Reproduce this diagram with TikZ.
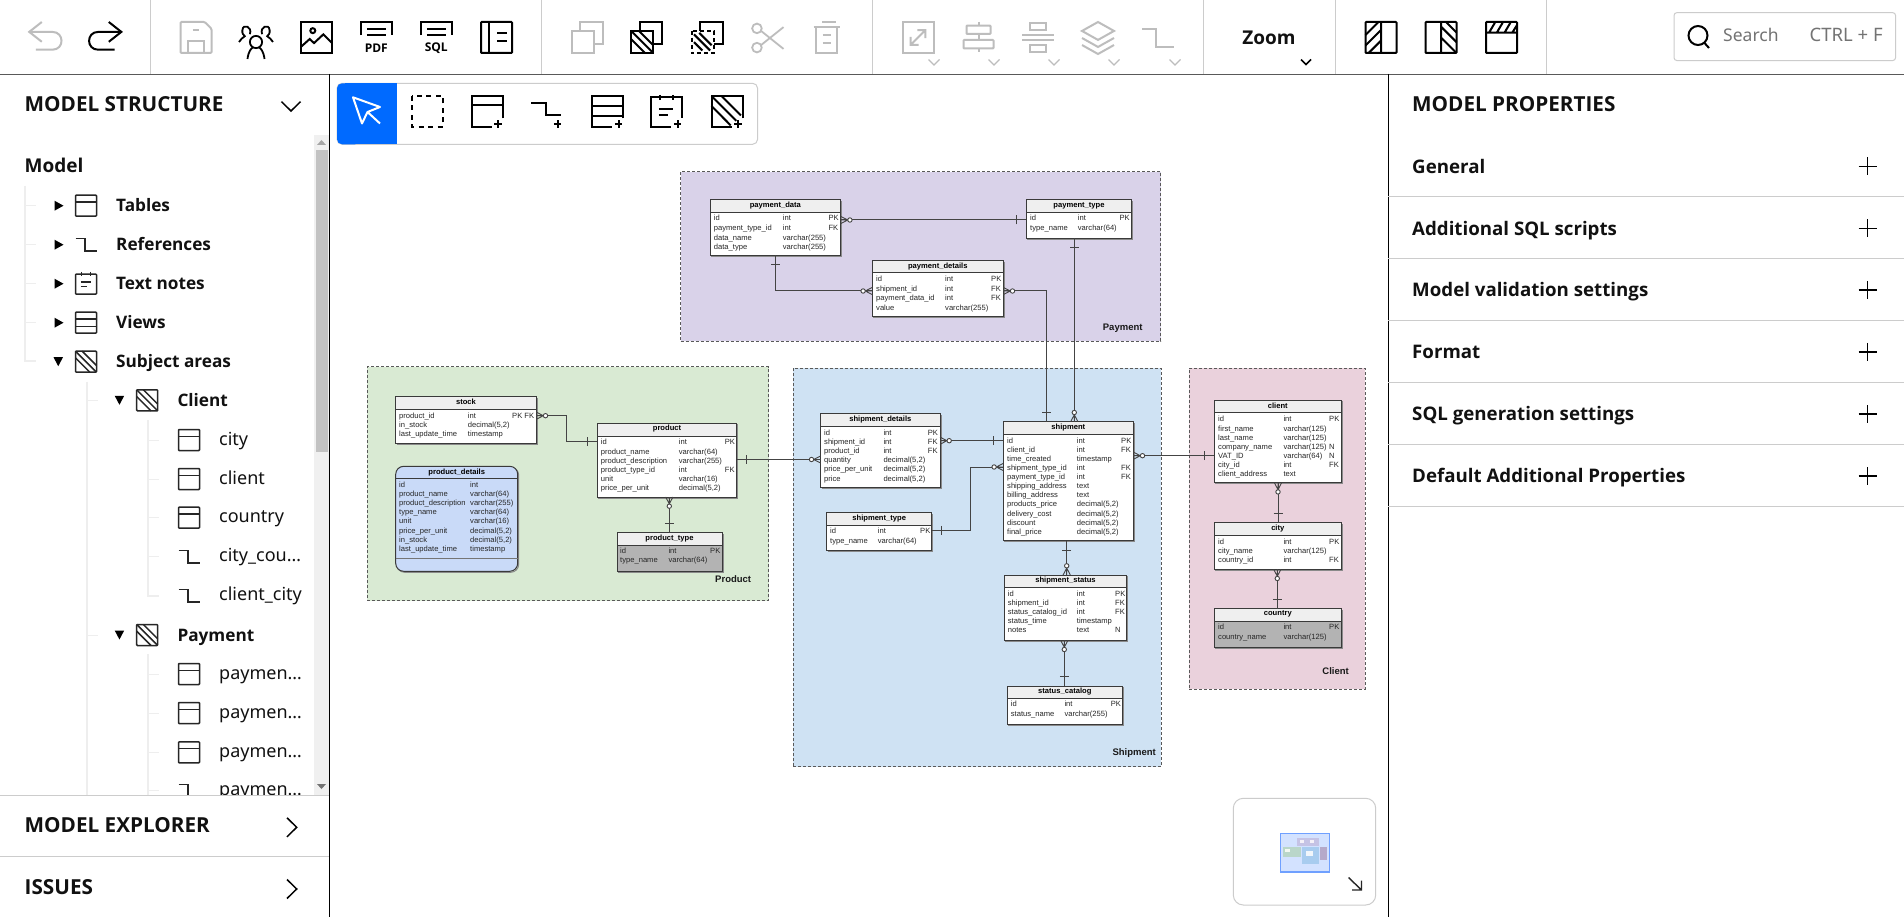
\documentclass[tikz,border=0pt]{standalone}
\usepackage{fontspec}
\setmainfont{Noto Sans}
\newfontfamily\dgfont{Liberation Sans}
\newfontfamily\uibold{Open Sans}
\catcode`\_=12
\definecolor{uitext}{HTML}{111111}
\definecolor{icgray}{HTML}{BDBDBD}
\definecolor{sep}{HTML}{CCCCCC}
\definecolor{treeline}{HTML}{EEEEEE}
\definecolor{dgline}{HTML}{444444}
\definecolor{tblborder}{HTML}{3A3A3A}
\definecolor{tblshadow}{HTML}{8A8A8A}
\definecolor{tblhead}{HTML}{EFEFEF}
\definecolor{graybody}{HTML}{B3B3B3}
\definecolor{bluebody}{HTML}{C9DAF8}
\definecolor{apay}{HTML}{D9D2E9}
\definecolor{aprod}{HTML}{D9EAD3}
\definecolor{aship}{HTML}{CFE2F3}
\definecolor{aclient}{HTML}{EAD1DC}
\definecolor{blue}{HTML}{006AFF}
\definecolor{mmblue}{HTML}{6FA0FF}
\definecolor{mmfill}{HTML}{D3E2FF}
\definecolor{mmpay}{HTML}{C5C3E5}
\definecolor{mmprod}{HTML}{B9D6C9}
\definecolor{mmship}{HTML}{A8CCEF}
\definecolor{mmclient}{HTML}{B5A9C9}
\newcommand\fs[1]{\fontsize{#1}{#1}\selectfont}
\tikzset{
  uihead/.style={anchor=mid west,inner sep=0pt,yshift=-3.4pt,text=uitext,font=\uibold\bfseries\fs{17.2}},
  uicaps/.style={uihead,yshift=-0.3pt,font=\uibold\bfseries\fs{20.7}},
  uiprop/.style={uihead,yshift=-0.8pt,font=\uibold\bfseries\fs{18.7}},
  uiitem/.style={anchor=mid west,inner sep=0pt,yshift=-2.6pt,text=uitext,font=\fs{18}},
  rowtxt/.style={anchor=mid west,inner sep=0pt,text=black!85,font=\dgfont\fs{7.6}},
  titletxt/.style={inner sep=0pt,text=black,font=\dgfont\fs{7.6}\bfseries},
  arealabel/.style={anchor=mid east,inner sep=0pt,text=black!90,font=\dgfont\fs{9.5}\bfseries},
  areabox/.style={draw=black!65,line width=0.8pt,dash pattern=on 3pt off 2pt,inner sep=0pt,outer sep=0pt,anchor=north west},
  conn/.style={draw=dgline,line width=1pt},
  crowmark/.pic={
    \draw[dgline,line width=0.9pt] (0,3.6)--(7,0) (0,-3.6)--(7,0) (0,0)--(7,0);
    \draw[dgline,line width=0.9pt,fill=white] (9.2,0) circle (2.2pt);
  },
  barmark/.pic={\draw[dgline,line width=0.9pt] (9.5,-4.5)--(9.5,4.5);},
  sepline/.style={draw=sep,line width=1pt},
}
\newcounter{rw}
\newcommand\colA{0}\newcommand\colB{0}\newcommand\colC{0}
\newcommand\tbl[8]{%
  \draw[tblshadow,line width=1pt] (#2+1,#5+1)--(#4+1,#5+1)--(#4+1,#3+1);
  \node[draw=tblborder,line width=1pt,fill=#8,inner sep=0pt,outer sep=0pt,anchor=north west,minimum width=#4pt-#2pt,minimum height=#5pt-#3pt] (#1) at (#2,#3) {};
  \node[draw=tblborder,line width=1pt,fill=tblhead,inner sep=0pt,outer sep=0pt,anchor=north west,minimum width=#4pt-#2pt,minimum height=#6pt-#3pt] (#1_head) at (#2,#3) {};
  \node[titletxt,yshift=0.8pt] (#1_title) at (#1_head.center) {#7};
}
\newcommand\cols[3]{\renewcommand\colA{#1}\renewcommand\colB{#2}\renewcommand\colC{#3}}
\newcommand\rw[4]{\stepcounter{rw}%
  \node[rowtxt] (r\therw a) at (\colA,#1) {#2};
  \node[rowtxt] (r\therw b) at (\colB,#1) {#3};
  \node[rowtxt] (r\therw c) at (\colC,#1) {#4};}
\newcommand\ic[6]{\begin{scope}[shift={(#2,#3)},x=#4pt,y=-#4pt,color=#5,line width=#6pt,line cap=butt,line join=miter]\csname ic#1\endcsname\end{scope}}
\newcommand\icPlusMark{\draw[line width=1.7pt] (.86,.78)--(.86,1.02) (.74,.9)--(.98,.9);}
\newcommand\icTable{\draw[rounded corners=0.8pt] (0,0) rectangle (1,1); \draw (0,.33)--(1,.33);}
\newcommand\icRef{\draw (0,.21)--(.45,.21)--(.45,.79)--(1,.79);}
\newcommand\icView{\draw[rounded corners=0.8pt] (0,0) rectangle (1,1); \draw (0,.33)--(1,.33) (0,.67)--(1,.67);}
\newcommand\icNote{\draw[rounded corners=0.8pt] (0,.04) rectangle (1,1); \draw (.28,-.06)--(.28,.12) (.72,-.06)--(.72,.12) (.25,.42)--(.72,.42) (.25,.64)--(.55,.64);}
\newcommand\icHatch{(.32,0)--(1,.68) (0,0)--(1,1) (0,.32)--(.68,1)}
\newcommand\icArea{\draw[rounded corners=0.8pt] (0,0) rectangle (1,1); \draw \icHatch;}
\newcommand\icUndo{\draw (.4,0)--(.02,.3)--(.4,.6); \draw (.02,.3)--(.72,.3) .. controls (1.09,.3) and (1.09,.84) .. (.72,.84)--(.22,.84);}
\newcommand\icRedo{\draw (.6,0)--(.98,.3)--(.6,.6); \draw (.98,.3)--(.28,.3) .. controls (-.09,.3) and (-.09,.84) .. (.28,.84)--(.78,.84);}
\newcommand\icSave{\draw[rounded corners=1pt] (0,0)--(.78,0)--(1,.22)--(1,1)--(0,1)--cycle; \draw (.4,.27)--(.6,.27); \draw (.24,1)--(.24,.62)--(.76,.62)--(.76,1);}
\newcommand\icUsers{\draw (.5,.5) circle (.18); \draw (.25,1) .. controls (.28,.76) and (.36,.7) .. (.4,.66) (.75,1) .. controls (.72,.76) and (.64,.7) .. (.6,.66);
  \draw (.32,.27) .. controls (.4,.05) and (.12,-.06) .. (.1,.15) .. controls (.08,.25) and (.14,.3) .. (.17,.33) .. controls (.1,.38) and (.05,.42) .. (0,.5);
  \draw (.68,.27) .. controls (.6,.05) and (.88,-.06) .. (.9,.15) .. controls (.92,.25) and (.86,.3) .. (.83,.33) .. controls (.9,.38) and (.95,.42) .. (1,.5);}
\newcommand\icImage{\draw (0,0) rectangle (1,1); \draw (.38,.28) circle (.08); \draw (0,.8)--(.28,.55)--(.42,.68)--(.72,.4)--(1,.68);}
\newcommand\icPdf{\draw (0,.42)--(0,0)--(1,0)--(1,.42); \draw (.2,.22)--(.8,.22) (.2,.42)--(.8,.42);
  \node[inner sep=0pt,font=\uibold\bfseries\fs{12},text=black] (pdflabel) at (.5,.84) {PDF};}
\newcommand\icSql{\draw (0,.42)--(0,0)--(1,0)--(1,.42); \draw (.2,.22)--(.8,.22) (.2,.42)--(.8,.42);
  \node[inner sep=0pt,font=\uibold\bfseries\fs{12},text=black] (sqllabel) at (.5,.84) {SQL};}
\newcommand\icSide{\draw[rounded corners=0.8pt] (0,0) rectangle (1,1); \draw (.27,0)--(.27,1) (.52,.36)--(.84,.36) (.52,.6)--(.84,.6);}
\newcommand\icCopy{\draw (.28,0) rectangle (1,.72); \draw[fill=white] (0,.28) rectangle (.72,1);}
\newcommand\icCopyArea{\draw (.28,0) rectangle (1,.72); \draw[fill=white] (0,.28) rectangle (.72,1); \draw (.25,.28)--(.72,.75) (0,.28)--(.72,1) (0,.55)--(.45,1);}
\newcommand\icCopyDash{\draw (.28,.28)--(.28,0)--(1,0)--(1,.72)--(.72,.72); \draw[dash pattern=on 4pt off 3pt] (0,.28) rectangle (.72,1); \draw (.25,.35)--(.65,.75) (.08,.4)--(.6,.92) (.08,.65)--(.35,.92);}
\newcommand\icScissors{\draw (.17,.2) circle (.15) (.17,.8) circle (.15); \draw (.3,.28)--(1,.84) (.3,.72)--(1,.16);}
\newcommand\icTrash{\draw (.29,0)--(.71,0) (.0,.15)--(.84,.15); \draw (.08,.15)--(.08,1)--(.76,1)--(.76,.15); \draw (.3,.42)--(.56,.42) (.3,.68)--(.56,.68);}
\newcommand\icExpand{\draw (0,0) rectangle (1,1); \draw (.26,.74)--(.74,.26) (.48,.26)--(.74,.26)--(.74,.52) (.26,.48)--(.26,.74)--(.52,.74);}
\newcommand\icAlignA{\draw[rounded corners=0.8pt] (.1,.12) rectangle (.9,.4); \draw[rounded corners=0.8pt] (0,.6) rectangle (1,.88); \draw (.5,0)--(.5,.12) (.5,.4)--(.5,.6) (.5,.88)--(.5,1);}
\newcommand\icAlignB{\draw (.25,.02) rectangle (.75,.24); \draw (.25,.72) rectangle (.75,.96); \draw (0,.4)--(1,.4) (0,.57)--(1,.57);}
\newcommand\icLayers{\draw (.5,0)--(1,.28)--(.5,.56)--(0,.28)--cycle; \draw (0,.5)--(.5,.78)--(1,.5) (0,.72)--(.5,1)--(1,.72);}
\newcommand\icSplitL{\draw[rounded corners=0.8pt] (0,0) rectangle (1,1); \draw (.5,0)--(.5,1) (0,.42)--(.42,0) (0,.76)--(.5,.26) (.1,1)--(.5,.6);}
\newcommand\icSplitR{\draw[rounded corners=0.8pt] (0,0) rectangle (1,1); \draw (.5,0)--(.5,1) (.5,.15)--(1,.65) (.66,0)--(1,.34) (.5,.5)--(1,1);}
\newcommand\icSplitT{\draw[rounded corners=0.8pt] (0,0) rectangle (1,1); \draw (0,.34)--(1,.34) (.1,.34)--(.3,0) (.35,.34)--(.55,0) (.6,.34)--(.8,0) (.85,.34)--(1,.1);}
\newcommand\icDashRect{\draw[dash pattern=on 5pt off 4.5pt] (0,0) rectangle (1,1);}
\newcommand\icTablePlus{\draw (1,.72)--(1,0)--(0,0)--(0,1)--(.66,1); \draw (0,.3)--(1,.3); \icPlusMark}
\newcommand\icRefPlus{\draw (0,.21)--(.48,.21)--(.48,.62)--(.98,.62); \icPlusMark}
\newcommand\icViewPlus{\draw (1,.72)--(1,0)--(0,0)--(0,1)--(.66,1); \draw (0,.33)--(1,.33) (0,.64)--(1,.64); \icPlusMark}
\newcommand\icNotePlus{\draw (1,.7)--(1,.04)--(0,.04)--(0,1)--(.66,1); \draw (.28,-.04)--(.28,.12) (.72,-.04)--(.72,.12) (.25,.42)--(.72,.42) (.25,.62)--(.55,.62); \icPlusMark}
\newcommand\icAreaPlus{\draw (1,.72)--(1,0)--(0,0)--(0,1)--(.66,1); \draw (.32,0)--(.95,.63) (0,0)--(.8,.8) (0,.32)--(.62,.95); \icPlusMark}
\newcommand\triR[2]{\fill[black] (#1,#2-5)--(#1+9,#2)--(#1,#2+5)--cycle;}
\newcommand\triD[2]{\fill[black] (#1,#2-4.5)--(#1+9.5,#2-4.5)--(#1+4.75,#2+4.5)--cycle;}
\begin{document}
\begin{tikzpicture}[x=1pt,y=-1pt]
\useasboundingbox (0,0) rectangle (1904,917);
\fill[white] (0,0) rectangle (1904,917);
\foreach \sx in {150.6,541,872.6,1203,1335.7,1546.6} \draw[sepline] (\sx,0)--(\sx,74);
\draw[black!65,line width=1pt] (0,74.3)--(1904,74.3);
\draw[black,line width=1pt] (329,74)--(329,917);
\draw[black,line width=1pt] (1388,74)--(1388,917);
\ic{Undo}{28.6}{22}{33}{icgray}{2}
\ic{Redo}{89}{22}{33}{black}{2}
\ic{Save}{180.5}{22}{31}{icgray}{2}
\ic{Users}{239}{25}{34}{black}{1.8}
\ic{Image}{301}{22}{31}{black}{2}
\ic{Pdf}{360.5}{22}{31.5}{black}{2}
\ic{Sql}{420.5}{22}{31.5}{black}{2}
\ic{Side}{481}{22}{31}{black}{2}
\ic{Copy}{571.5}{22}{31}{icgray}{2}
\ic{CopyArea}{631}{22}{31}{black}{2}
\ic{CopyDash}{691.5}{22}{31}{black}{2}
\ic{Scissors}{751.5}{22}{32}{icgray}{1.8}
\ic{Trash}{813.5}{22}{31}{icgray}{2}
\ic{Expand}{902.5}{22}{31}{icgray}{2}
\ic{AlignA}{963.5}{22}{30}{icgray}{2}
\ic{AlignB}{1022}{22}{31.5}{icgray}{2}
\ic{Layers}{1082}{22}{32}{icgray}{2}
\ic{Ref}{1142}{22}{32}{icgray}{2}
\foreach \cx in {934,994,1054,1114,1175}
  \draw[icgray,line width=1.3pt] (\cx-5.5,59.5)--(\cx,65)--(\cx+5.5,59.5);
\node[inner sep=0pt,font=\uibold\bfseries\fs{19},text=uitext] (zoomlabel) at (1269,37.5) {Zoom};
\draw[black,line width=1.6pt] (1301,59.5)--(1306,64.5)--(1311,59.5);
\ic{SplitL}{1365.5}{22}{31}{black}{2}
\ic{SplitR}{1425.5}{22}{31}{black}{2}
\ic{SplitT}{1486}{22}{31}{black}{2}
\draw[sep,line width=1pt,rounded corners=3pt] (1674,12.6) rectangle (1895.6,60.6);
\draw[black,line width=2pt] (1698,35.5) circle (9.5pt);
\draw[black,line width=2pt] (1704.5,43)--(1709,48);
\node[uiitem,font=\fs{17.5},text=black!55] (searchlabel) at (1723,36) {Search};
\node[uiitem,font=\fs{18.5},text=black!55] (searchkeys) at (1809.5,36.5) {CTRL + F};
\node[uicaps] (modelstructure) at (24.5,105) {MODEL STRUCTURE};
\draw[black,line width=1.5pt] (281.5,101.7)--(291,111)--(300.5,101.7);
\fill[black!6] (314.3,135) rectangle (329,795);
\fill[black!24] (315.5,150) rectangle (328,451.7);
\fill[black!35] (317,145)--(326,145)--(321.5,140)--cycle;
\fill[black!55] (317,784)--(326,784)--(321.5,789)--cycle;
\begin{scope}
\clip (0,120) rectangle (314,795);
\draw[treeline,line width=2pt] (25,186)--(25,360.7)--(35.7,360.7);
\foreach \ty in {205.7,244.7,283.7,322.7} \draw[treeline,line width=1pt] (25,\ty)--(35.7,\ty);
\draw[treeline,line width=2pt] (86.7,381.7)--(86.7,795);
\foreach \ty in {400.3,635} \draw[treeline,line width=1pt] (86.7,\ty)--(98,\ty);
\draw[treeline,line width=2pt] (147.7,420)--(147.7,595.7)--(159,595.7);
\foreach \ty in {440,479,517.7,556.7} \draw[treeline,line width=1pt] (147.7,\ty)--(159,\ty);
\draw[treeline,line width=2pt] (147.7,654)--(147.7,795);
\foreach \ty in {674,713,752.3,790.7} \draw[treeline,line width=1pt] (147.7,\ty)--(159,\ty);
\node[uihead,font=\uibold\bfseries\fs{19}] (tree_model) at (24.5,166.7) {Model};
\triR{54.5}{205.7}\ic{Table}{75.5}{195.2}{21}{black!85}{1.5}\node[uihead] (tree_tables) at (116,205.7) {Tables};
\triR{54.5}{244.7}\ic{Ref}{75.5}{234.2}{21}{black!85}{1.5}\node[uihead] (tree_refs) at (116,244.7) {References};
\triR{54.5}{283.7}\ic{Note}{75.5}{273.2}{21}{black!85}{1.5}\node[uihead] (tree_notes) at (116,283.7) {Text notes};
\triR{54.5}{322.7}\ic{View}{75.5}{312.2}{21}{black!85}{1.5}\node[uihead] (tree_views) at (116,322.7) {Views};
\triD{53.5}{361.7}\ic{Area}{75.5}{351.2}{21}{black!85}{1.5}\node[uihead] (tree_areas) at (116,361.7) {Subject areas};
\triD{114.7}{400.3}\ic{Area}{136.7}{389.8}{21}{black!85}{1.5}\node[uihead] (tree_client) at (177.3,400.3) {Client};
\ic{Table}{178.5}{429.5}{21}{black!85}{1.5}\node[uiitem] (tree_city) at (219,440) {city};
\ic{Table}{178.5}{468.5}{21}{black!85}{1.5}\node[uiitem] (tree_clientt) at (219,479) {client};
\ic{Table}{178.5}{507.2}{21}{black!85}{1.5}\node[uiitem] (tree_country) at (219,517.7) {country};
\ic{Ref}{178.5}{546.2}{21}{black!85}{1.5}\node[uiitem] (tree_citycou) at (219,556.7) {city_cou…};
\ic{Ref}{178.5}{585.2}{21}{black!85}{1.5}\node[uiitem] (tree_clientcity) at (219,595.7) {client_city};
\triD{114.7}{635}\ic{Area}{136.7}{624.5}{21}{black!85}{1.5}\node[uihead] (tree_payment) at (177.3,635) {Payment};
\ic{Table}{178.5}{663.5}{21}{black!85}{1.5}\node[uiitem] (tree_pay1) at (219,674) {paymen…};
\ic{Table}{178.5}{702.5}{21}{black!85}{1.5}\node[uiitem] (tree_pay2) at (219,713) {paymen…};
\ic{Table}{178.5}{741.8}{21}{black!85}{1.5}\node[uiitem] (tree_pay3) at (219,752.3) {paymen…};
\ic{Ref}{178.5}{780.2}{21}{black!85}{1.5}\node[uiitem] (tree_pay4) at (219,790.7) {paymen…};
\end{scope}
\draw[sepline] (0,795.3)--(329,795.3);
\draw[sepline] (0,856.3)--(329,856.3);
\node[uicaps] (modelexplorer) at (24.5,826) {MODEL EXPLORER};
\node[uicaps] (issues) at (24.5,887.7) {ISSUES};
\draw[black,line width=1.5pt] (287,817.8)--(296.7,827.3)--(287,836.8);
\draw[black,line width=1.5pt] (287,879.5)--(296.7,889)--(287,898.5);
\node[uicaps] (modelprops) at (1412,105) {MODEL PROPERTIES};
\foreach \pname/\pid/\py in {General/pa/166.4,Additional SQL scripts/pb/228.3,Model validation settings/pc/290,Format/pd/352,SQL generation settings/pe/414,Default Additional Properties/pf/476}{
  \node[uiprop] (\pid) at (1412,\py) {\pname};
  \draw[black,line width=1.4pt] (1858.5,\py)--(1876.5,\py) (1867.5,\py-9)--(1867.5,\py+9);
  \draw[sepline] (1388,\py+30.6)--(1904,\py+30.6);
}
\draw[sep,fill=white,line width=1pt,rounded corners=5pt] (337,83.3) rectangle (757.6,144.3);
\fill[blue,rounded corners=5pt] (337,83.3) rectangle (360,144.3);
\fill[blue] (345,83.3) rectangle (397,144.3);
\draw[white,line width=2pt,line join=round] (353,97.3)--(380,107)--(367.5,112)--(362,123.5)--cycle (367.5,112)--(380,123.5);
\ic{DashRect}{411.5}{96}{31}{black}{2}
\ic{TablePlus}{471.5}{96}{31}{black}{2}
\ic{RefPlus}{531}{96}{31}{black}{2}
\ic{ViewPlus}{592}{96}{31}{black}{2}
\ic{NotePlus}{651}{96}{31}{black}{2}
\ic{AreaPlus}{711.5}{96}{31}{black}{2}
\node[areabox,fill=apay,minimum width=480pt,minimum height=169.3pt] (area_payment) at (680.7,171.7) {};
\node[areabox,fill=aprod,minimum width=401.4pt,minimum height=234pt] (area_product) at (367.3,366.7) {};
\node[areabox,fill=aship,minimum width=368pt,minimum height=398.7pt] (area_shipment) at (793.3,368) {};
\node[areabox,fill=aclient,minimum width=175.7pt,minimum height=321.3pt] (area_client) at (1189.3,368) {};
\node[arealabel] (lab_payment) at (1142.7,327.7) {Payment};
\node[arealabel] (lab_product) at (751.3,579.7) {Product};
\node[arealabel] (lab_shipment) at (1156,752.7) {Shipment};
\node[arealabel] (lab_client) at (1349,671.7) {Client};
\tbl{payment_data}{710}{200}{840.7}{255.3}{212.7}{payment_data}{white}
\cols{713.7}{782.7}{828.3}
\rw{218.3}{id}{int}{PK}
\rw{228.3}{payment_type_id}{int}{FK}
\rw{237.7}{data_name}{varchar(255)}{}
\rw{246.7}{data_type}{varchar(255)}{}
\tbl{payment_type}{1026.3}{199.7}{1131.7}{238.3}{212.7}{payment_type}{white}
\cols{1030}{1077.7}{1119.3}
\rw{218.3}{id}{int}{PK}
\rw{228.3}{type_name}{varchar(64)}{}
\tbl{payment_details}{872.3}{260.7}{1003.3}{316.3}{273}{payment_details}{white}
\cols{876}{945}{991}
\rw{279.3}{id}{int}{PK}
\rw{288.7}{shipment_id}{int}{FK}
\rw{297.7}{payment_data_id}{int}{FK}
\rw{307.7}{value}{varchar(255)}{}
\tbl{stock}{395.7}{396.7}{536.3}{443}{409}{stock}{white}
\cols{399}{467.7}{512}
\rw{415.7}{product_id}{int}{PK FK}
\rw{424.7}{in_stock}{decimal(5,2)}{}
\rw{433.7}{last_update_time}{timestamp}{}
\draw[tblshadow,line width=1pt,rounded corners=8pt] (396.7,467.3) rectangle (518.7,572.3);
\node[draw=tblborder,line width=1pt,fill=bluebody,rounded corners=8pt,inner sep=0pt,outer sep=0pt,anchor=north west,minimum width=122pt,minimum height=105pt] (product_details) at (395.7,466.3) {};
\node[titletxt] (product_details_title) at (456.7,472.2) {product_details};
\draw[tblborder,line width=1pt] (395.7,478.7)--(517.7,478.7);
\draw[tblborder!70,line width=1pt] (395.7,558.7)--(517.7,558.7);
\cols{399}{470}{510}
\rw{485.3}{id}{int}{}
\rw{494.3}{product_name}{varchar(64)}{}
\rw{503.3}{product_description}{varchar(255)}{}
\rw{512.3}{type_name}{varchar(64)}{}
\rw{521.3}{unit}{varchar(16)}{}
\rw{530.7}{price_per_unit}{decimal(5,2)}{}
\rw{539.7}{in_stock}{decimal(5,2)}{}
\rw{548.7}{last_update_time}{timestamp}{}
\tbl{product}{597.3}{423.3}{736.7}{497}{436}{product}{white}
\cols{600.7}{678.7}{724.7}
\rw{441.7}{id}{int}{PK}
\rw{451.7}{product_name}{varchar(64)}{}
\rw{460.7}{product_description}{varchar(255)}{}
\rw{469.7}{product_type_id}{int}{FK}
\rw{478.7}{unit}{varchar(16)}{}
\rw{487.7}{price_per_unit}{decimal(5,2)}{}
\tbl{product_type}{617}{532.7}{722}{571.3}{545.3}{product_type}{graybody}
\cols{620}{668.3}{710}
\rw{551.3}{id}{int}{PK}
\rw{560.3}{type_name}{varchar(64)}{}
\tbl{shipment_details}{820.7}{413.7}{940}{487.7}{426}{shipment_details}{white}
\cols{824}{883.3}{927.7}
\rw{432.7}{id}{int}{PK}
\rw{441.7}{shipment_id}{int}{FK}
\rw{450.7}{product_id}{int}{FK}
\rw{459.7}{quantity}{decimal(5,2)}{}
\rw{468.7}{price_per_unit}{decimal(5,2)}{}
\rw{478.7}{price}{decimal(5,2)}{}
\tbl{shipment}{1003.3}{421.7}{1133.3}{540.7}{434}{shipment}{white}
\cols{1007}{1076.7}{1121}
\rw{440.7}{id}{int}{PK}
\rw{449.7}{client_id}{int}{FK}
\rw{458.7}{time_created}{timestamp}{}
\rw{467.7}{shipment_type_id}{int}{FK}
\rw{476.7}{payment_type_id}{int}{FK}
\rw{485.7}{shipping_address}{text}{}
\rw{494.7}{billing_address}{text}{}
\rw{503.7}{products_price}{decimal(5,2)}{}
\rw{513.7}{delivery_cost}{decimal(5,2)}{}
\rw{522.7}{discount}{decimal(5,2)}{}
\rw{531.7}{final_price}{decimal(5,2)}{}
\tbl{shipment_type}{826.7}{512.7}{931.7}{550.7}{525}{shipment_type}{white}
\cols{830}{877.7}{920}
\rw{531.3}{id}{int}{PK}
\rw{540.7}{type_name}{varchar(64)}{}
\tbl{shipment_status}{1004.3}{575}{1126.7}{640.3}{587.3}{shipment_status}{white}
\cols{1007.7}{1076.7}{1115}
\rw{594.3}{id}{int}{PK}
\rw{603.3}{shipment_id}{int}{FK}
\rw{612.3}{status_catalog_id}{int}{FK}
\rw{621.3}{status_time}{timestamp}{}
\rw{630.3}{notes}{text}{N}
\tbl{status_catalog}{1007.3}{686}{1122.3}{724.3}{698.3}{status_catalog}{white}
\cols{1010.7}{1064.3}{1110.7}
\rw{704.3}{id}{int}{PK}
\rw{714.3}{status_name}{varchar(255)}{}
\tbl{client}{1214.3}{400.3}{1341.3}{482.7}{412.7}{client}{white}
\cols{1218}{1283.3}{1329}
\rw{419.3}{id}{int}{PK}
\rw{428.7}{first_name}{varchar(125)}{}
\rw{437.7}{last_name}{varchar(125)}{}
\rw{446.7}{company_name}{varchar(125)}{N}
\rw{455.7}{VAT_ID}{varchar(64)}{N}
\rw{464.7}{city_id}{int}{FK}
\rw{473.7}{client_address}{text}{}
\tbl{city}{1214.3}{522.7}{1341.3}{569.3}{535.3}{city}{white}
\rw{541.7}{id}{int}{PK}
\rw{550.7}{city_name}{varchar(125)}{}
\rw{559.7}{country_id}{int}{FK}
\tbl{country}{1214.3}{608.7}{1341.3}{647.3}{621.3}{country}{graybody}
\rw{627.3}{id}{int}{PK}
\rw{636.7}{country_name}{varchar(125)}{}
\draw[conn] (payment_data.east |- 0,220) -- (payment_type.west |- 0,220);
\path (payment_data.east |- 0,220) pic {crowmark};
\path (payment_type.west |- 0,220) pic[rotate=180] {barmark};
\draw[conn] (775.3,0 |- payment_data.south) |- (payment_details.west |- 0,291);
\path (775.3,0 |- payment_data.south) pic[rotate=270] {barmark};
\path (payment_details.west |- 0,291) pic[rotate=180] {crowmark};
\draw[conn] (payment_details.east |- 0,291) -| (1046.7,0 |- shipment.north);
\path (payment_details.east |- 0,291) pic {crowmark};
\path (1046.7,0 |- shipment.north) pic[rotate=90] {barmark};
\draw[conn] (1074.3,0 |- payment_type.south) -- (1074.3,0 |- shipment.north);
\path (1074.3,0 |- payment_type.south) pic[rotate=270] {barmark};
\path (1074.3,0 |- shipment.north) pic[rotate=90] {crowmark};
\draw[conn] (stock.east |- 0,415.7) -| (566,441.7) -- (product.west |- 0,441.7);
\path (stock.east |- 0,415.7) pic {crowmark};
\path (product.west |- 0,441.7) pic[rotate=180] {barmark};
\draw[conn] (product.east |- 0,459.5) -- (shipment_details.west |- 0,459.5);
\path (product.east |- 0,459.5) pic {barmark};
\path (shipment_details.west |- 0,459.5) pic[rotate=180] {crowmark};
\draw[conn] (669.3,0 |- product.south) -- (669.3,0 |- product_type.north);
\path (669.3,0 |- product.south) pic[rotate=270] {crowmark};
\path (669.3,0 |- product_type.north) pic[rotate=90] {barmark};
\draw[conn] (shipment_details.east |- 0,440.7) -- (shipment.west |- 0,440.7);
\path (shipment_details.east |- 0,440.7) pic {crowmark};
\path (shipment.west |- 0,440.7) pic[rotate=180] {barmark};
\draw[conn] (shipment_type.east |- 0,530.3) -| (970.3,467) -- (shipment.west |- 0,467);
\path (shipment_type.east |- 0,530.3) pic {barmark};
\path (shipment.west |- 0,467) pic[rotate=180] {crowmark};
\draw[conn] (shipment.east |- 0,455.7) -- (client.west |- 0,455.7);
\path (shipment.east |- 0,455.7) pic {crowmark};
\path (client.west |- 0,455.7) pic[rotate=180] {barmark};
\draw[conn] (1066.7,0 |- shipment.south) -- (1066.7,0 |- shipment_status.north);
\path (1066.7,0 |- shipment.south) pic[rotate=270] {barmark};
\path (1066.7,0 |- shipment_status.north) pic[rotate=90] {crowmark};
\draw[conn] (1064.3,0 |- shipment_status.south) -- (1064.3,0 |- status_catalog.north);
\path (1064.3,0 |- shipment_status.south) pic[rotate=270] {crowmark};
\path (1064.3,0 |- status_catalog.north) pic[rotate=90] {barmark};
\draw[conn] (1278,0 |- client.south) -- (1278,0 |- city.north);
\path (1278,0 |- client.south) pic[rotate=270] {crowmark};
\path (1278,0 |- city.north) pic[rotate=90] {barmark};
\draw[conn] (1277.3,0 |- city.south) -- (1277.3,0 |- country.north);
\path (1277.3,0 |- city.south) pic[rotate=270] {crowmark};
\path (1277.3,0 |- country.north) pic[rotate=90] {barmark};
\draw[sep,fill=white,line width=1pt,rounded corners=10pt] (1233.3,798.3) rectangle (1375.7,905);
\draw[mmblue,fill=mmfill,line width=1.5pt] (1280.7,833.3) rectangle (1329.3,872);
\fill[mmpay] (1296.7,838) rectangle (1318.7,845.7);
\fill[mmprod] (1283,847) rectangle (1300.7,857);
\fill[mmship] (1302,847) rectangle (1318.7,864);
\fill[mmclient] (1320,847) rectangle (1327,860);
\fill[white!70!aship] (1306,851) rectangle (1313,856);
\fill[white!70!apay] (1300,840) rectangle (1304,843);
\fill[white!70!apay] (1310,840) rectangle (1314,843);
\fill[white!70!aprod] (1285,849) rectangle (1290,852);
\draw[black!85,line width=1.4pt] (1348.5,877.5)--(1361.5,890) (1361.5,880.5)--(1361.5,890)--(1352,890);
\end{tikzpicture}
\end{document}
